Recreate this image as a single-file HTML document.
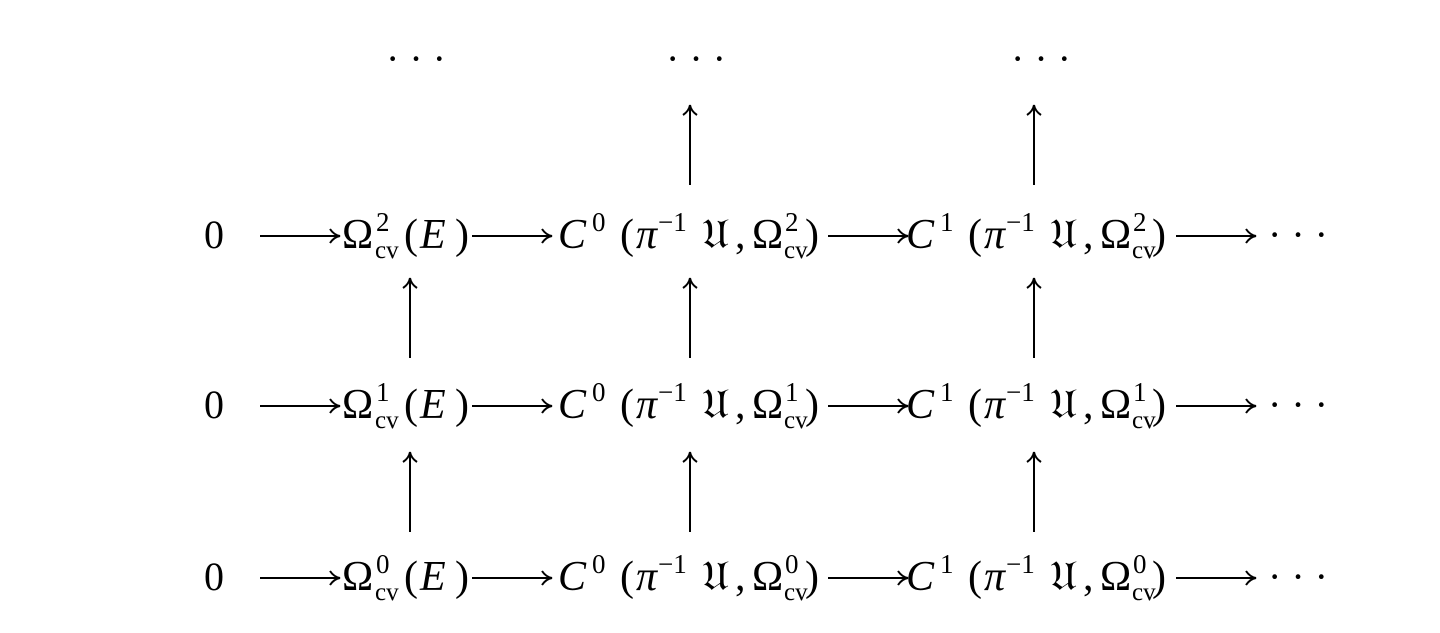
<!DOCTYPE html>
<html><head><meta charset="utf-8"><style>
html,body{margin:0;padding:0;background:#fff;}
svg{display:block}
text{font-family:"Liberation Serif",serif;fill:#000}
.i{font-style:italic}
</style></head><body>
<svg width="1440" height="633" viewBox="0 0 1440 633">
<defs>
<g id="ha"><line x1="0" y1="0" x2="78" y2="0" stroke="#000" stroke-width="2"/><path d="M70,-7 Q74,-1 80,0 Q74,1 70,7" fill="none" stroke="#000" stroke-width="2"/></g>
<g id="va"><line x1="0" y1="0" x2="0" y2="-78" stroke="#000" stroke-width="2"/><path d="M-7,-70 Q-1,-74 0,-80 Q1,-74 7,-70" fill="none" stroke="#000" stroke-width="2"/></g>
<g id="row">
<text x="204" y="0" font-size="40">0</text>
<use href="#ha" x="260" y="-12"/>
<use href="#ha" x="472" y="-12"/>
<use href="#ha" x="828" y="-12"/>
<use href="#ha" x="1176" y="-12"/>
<text x="342" y="0" font-size="42">Ω</text>
<text x="375" y="10" font-size="25">cv</text>
<text x="404" y="0" font-size="42">(</text><text x="420" y="0" font-size="42" class="i">E</text><text x="455" y="0" font-size="42">)</text>
<text x="558" y="0" font-size="42" class="i">C</text>
<text x="620" y="0" font-size="42">(</text><text x="636" y="0" font-size="42" class="i">π</text>
<text x="658" y="-17" font-size="27">−1</text>
<text x="702" y="0" font-size="42">𝔘</text><text x="735" y="0" font-size="42">,</text>
<text x="752" y="0" font-size="42">Ω</text>
<text x="784" y="10" font-size="25">cv</text>
<text x="805" y="0" font-size="42">)</text>
<text x="906" y="0" font-size="42" class="i">C</text>
<text x="968" y="0" font-size="42">(</text><text x="984" y="0" font-size="42" class="i">π</text>
<text x="1006" y="-17" font-size="27">−1</text>
<text x="1050" y="0" font-size="42">𝔘</text><text x="1083" y="0" font-size="42">,</text>
<text x="1100" y="0" font-size="42">Ω</text>
<text x="1132" y="10" font-size="25">cv</text>
<text x="1152" y="0" font-size="42">)</text>
<text x="1268" y="0" font-size="40">· · ·</text>
</g>
</defs>
<text x="386" y="72" font-size="40">· · ·</text>
<text x="666" y="72" font-size="40">· · ·</text>
<text x="1011" y="72" font-size="40">· · ·</text>

<g transform="translate(0,248)"><use href="#row"/>
<text x="376" y="-17" font-size="27">2</text><text x="592" y="-17" font-size="27">0</text><text x="785" y="-17" font-size="27">2</text><text x="940" y="-17" font-size="27">1</text><text x="1133" y="-17" font-size="27">2</text></g>
<g transform="translate(0,418)"><use href="#row"/>
<text x="376" y="-17" font-size="27">1</text><text x="592" y="-17" font-size="27">0</text><text x="785" y="-17" font-size="27">1</text><text x="940" y="-17" font-size="27">1</text><text x="1133" y="-17" font-size="27">1</text></g>
<g transform="translate(0,590)"><use href="#row"/>
<text x="376" y="-17" font-size="27">0</text><text x="592" y="-17" font-size="27">0</text><text x="785" y="-17" font-size="27">0</text><text x="940" y="-17" font-size="27">1</text><text x="1133" y="-17" font-size="27">0</text></g>

<use href="#va" x="690" y="185"/><use href="#va" x="1034" y="185"/>
<use href="#va" x="410" y="358"/><use href="#va" x="690" y="358"/><use href="#va" x="1034" y="358"/>
<use href="#va" x="410" y="532"/><use href="#va" x="690" y="532"/><use href="#va" x="1034" y="532"/>
</svg>
</body></html>
